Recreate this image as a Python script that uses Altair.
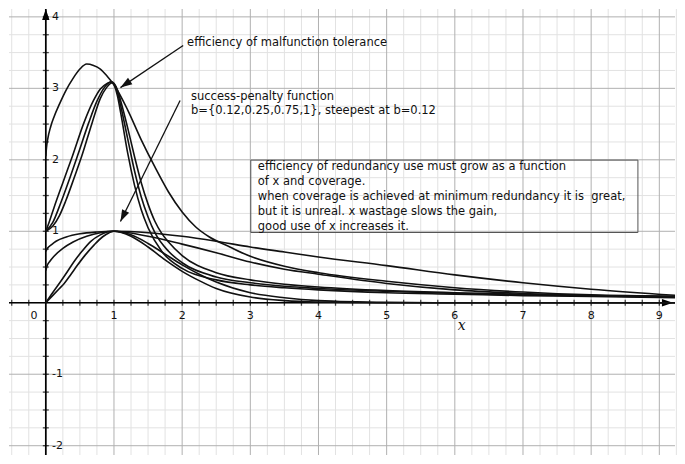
import altair as alt
import pandas as pd

# ---- curve values ----
# success-penalty family (peak 1 at x=1)
b1_x = [0, 0.03, 0.08, 0.15, 0.3, 0.5, 0.75, 1, 1.5, 2, 2.5, 3, 3.5, 4, 5, 6, 7, 8, 9.3]
b1_y = [0.72, 0.77, 0.81, 0.86, 0.92, 0.965, 0.99, 1, 0.98, 0.93, 0.86, 0.78, 0.71, 0.64, 0.52, 0.39, 0.28, 0.19, 0.1]
b2_x = [0, 0.02, 0.06, 0.12, 0.25, 0.4, 0.6, 0.8, 1, 1.5, 2, 2.5, 3, 3.5, 4, 5, 6, 7, 8, 9.3]
b2_y = [0.45, 0.52, 0.58, 0.65, 0.76, 0.85, 0.93, 0.98, 1, 0.93, 0.82, 0.7, 0.57, 0.47, 0.4, 0.27, 0.18, 0.13, 0.1, 0.08]
b3_x = [0, 0.1, 0.22, 0.32, 0.41, 0.53, 0.66, 0.8, 0.9, 1, 1.25, 1.5, 1.75, 2, 2.25, 2.5, 3, 3.5, 4, 5, 6, 9.3]
b3_y = [0, 0.14, 0.3, 0.44, 0.57, 0.72, 0.86, 0.95, 0.99, 1, 0.95, 0.83, 0.68, 0.53, 0.4, 0.29, 0.14, 0.07, 0.03, 0.005, 0, 0]
b4_x = [0, 0.1, 0.2, 0.27, 0.37, 0.46, 0.58, 0.71, 0.83, 0.93, 1, 1.25, 1.5, 1.75, 2, 2.25, 2.5, 3, 3.5, 4, 5, 9.3]
b4_y = [0, 0.1, 0.2, 0.27, 0.4, 0.52, 0.67, 0.81, 0.92, 0.98, 1, 0.93, 0.78, 0.6, 0.44, 0.31, 0.2, 0.08, 0.03, 0.01, 0, 0]
# malfunction-tolerance efficiency family
u0_x = [0, 0.01, 0.03, 0.07, 0.12, 0.2, 0.3, 0.4, 0.5, 0.6, 0.7, 0.8, 0.9, 1.0, 1.2, 1.4, 1.6, 1.8, 2.0, 2.2, 2.4, 2.7, 3.0, 3.5, 4, 5, 6, 7, 8, 9.3]
u0_y = [2.05, 2.17, 2.3, 2.46, 2.6, 2.78, 2.98, 3.14, 3.27, 3.34, 3.32, 3.27, 3.17, 3.05, 2.7, 2.28, 1.9, 1.55, 1.27, 1.06, 0.92, 0.78, 0.65, 0.51, 0.42, 0.3, 0.21, 0.15, 0.11, 0.09]
u1_x = [0, 0.05, 0.12, 0.25, 0.39, 0.56, 0.7, 0.8, 0.9, 0.96, 1.05, 1.1, 1.2, 1.3, 1.4, 1.5, 1.7, 2.0, 2.5, 3, 3.5, 4, 5, 6, 7, 8, 9.3]
u1_y = [1, 1.13, 1.33, 1.68, 2.05, 2.52, 2.83, 2.99, 3.07, 3.09, 2.9, 2.65, 2.1, 1.65, 1.3, 1.05, 0.72, 0.48, 0.32, 0.25, 0.21, 0.18, 0.14, 0.12, 0.1, 0.09, 0.07]
u2_x = [0, 0.1, 0.22, 0.35, 0.47, 0.63, 0.75, 0.85, 0.93, 0.97, 1.05, 1.1, 1.2, 1.3, 1.4, 1.5, 1.6, 1.8, 2.0, 2.5, 3, 3.5, 4, 5, 6, 7, 8, 9.3]
u2_y = [1, 1.12, 1.4, 1.74, 2.07, 2.52, 2.82, 3.0, 3.08, 3.09, 2.95, 2.75, 2.3, 1.85, 1.48, 1.2, 0.98, 0.72, 0.56, 0.36, 0.28, 0.23, 0.2, 0.16, 0.13, 0.11, 0.095, 0.08]
u3_x = [0, 0.1, 0.2, 0.29, 0.42, 0.53, 0.68, 0.8, 0.89, 0.95, 0.98, 1.05, 1.1, 1.2, 1.3, 1.4, 1.5, 1.6, 1.7, 1.8, 2.0, 2.5, 3, 3.5, 4, 5, 6, 7, 8, 9.3]
u3_y = [1, 1.07, 1.22, 1.42, 1.76, 2.06, 2.52, 2.86, 3.01, 3.07, 3.08, 2.98, 2.82, 2.45, 2.05, 1.68, 1.38, 1.14, 0.97, 0.85, 0.66, 0.42, 0.32, 0.26, 0.22, 0.17, 0.14, 0.12, 0.1, 0.085]

x_tick_labels = ["1", "2", "3", "4", "5", "6", "7", "8", "9"]
y_tick_labels = ["-2", "-1", "1", "2", "3", "4"]

series = {
    "b1": (b1_x, b1_y), "b2": (b2_x, b2_y), "b3": (b3_x, b3_y), "b4": (b4_x, b4_y),
    "u0": (u0_x, u0_y), "u1": (u1_x, u1_y), "u2": (u2_x, u2_y), "u3": (u3_x, u3_y),
}
rows = []
for name, (xs_, ys_) in series.items():
    for i, (a, b) in enumerate(zip(xs_, ys_)):
        rows.append({"s": name, "x": a, "y": b, "o": i})
curves = pd.DataFrame(rows)

XD = [-0.54, 9.23]
YD = [-2.13, 4.11]
xs = alt.Scale(domain=XD, nice=False, zero=False)
ys = alt.Scale(domain=YD, nice=False, zero=False)

def X(f="x"):
    return alt.X(f + ":Q", scale=xs, axis=None)

def Y(f="y"):
    return alt.Y(f + ":Q", scale=ys, axis=None)

FONT = "DejaVu Sans"

# grid
minor_x = [i * 0.25 for i in range(-2, 38) if i % 4 != 0]
major_x = [i for i in range(0, 10)]
minor_y = [i * 0.25 for i in range(-8, 17) if i % 4 != 0]
major_y = [i for i in range(-2, 5)]

gx_minor = alt.Chart(pd.DataFrame({"x": minor_x})).mark_rule(color="#e2e2e2", strokeWidth=1).encode(x=X())
gy_minor = alt.Chart(pd.DataFrame({"y": minor_y})).mark_rule(color="#e2e2e2", strokeWidth=1).encode(y=Y())
gx_major = alt.Chart(pd.DataFrame({"x": major_x})).mark_rule(color="#b0b0b0", strokeWidth=1).encode(x=X())
gy_major = alt.Chart(pd.DataFrame({"y": major_y})).mark_rule(color="#b0b0b0", strokeWidth=1).encode(y=Y())

# axes
axis_df = pd.DataFrame({"x": [XD[0]], "x2": [XD[1]], "y": [0.0]})
x_axis = alt.Chart(axis_df).mark_rule(color="black", strokeWidth=1.7).encode(
    x=X(), x2="x2:Q", y=Y())
y_axis_df = pd.DataFrame({"x": [0.0], "y": [YD[0]], "y2": [YD[1]]})
y_axis = alt.Chart(y_axis_df).mark_rule(color="black", strokeWidth=1.7).encode(
    x=X(), y=Y(), y2="y2:Q")

tx = [i * 0.25 for i in range(-2, 37) if i != 0]
ty = [i * 0.25 for i in range(-8, 17) if i != 0]
xt = alt.Chart(pd.DataFrame({"x": tx, "y": [0.0] * len(tx)})).mark_tick(
    orient="vertical", size=6, thickness=1.3, color="black").encode(x=X(), y=Y())
yt = alt.Chart(pd.DataFrame({"x": [0.0] * len(ty), "y": ty})).mark_tick(
    orient="horizontal", size=6, thickness=1.3, color="black").encode(x=X(), y=Y())

arrow_path = "M0,0L0.6,1.8L-0.6,1.8Z"
ax_heads = pd.DataFrame({"x": [9.2, 0.0], "y": [0.0, 4.11], "a": [90, 0]})
axis_heads = alt.Chart(ax_heads).mark_point(
    shape=arrow_path, size=150, filled=True, color="black", opacity=1).encode(
    x=X(), y=Y(), angle=alt.Angle("a:Q", scale=None))

# tick labels
xl = alt.Chart(pd.DataFrame({"x": list(range(1, 10)), "t": x_tick_labels, "y": [-0.18] * 9})).mark_text(
    font=FONT, fontSize=11, color="#111", baseline="middle", align="center").encode(
    x=X(), y=Y(), text="t:N")
zero_l = alt.Chart(pd.DataFrame({"x": [-0.175], "y": [-0.18], "t": ["0"]})).mark_text(
    font=FONT, fontSize=11, color="#111", baseline="middle", align="center").encode(
    x=X(), y=Y(), text="t:N")
yl = alt.Chart(pd.DataFrame({"x": [0.09] * 6, "y": [-2, -1, 1, 2, 3, 4], "t": y_tick_labels})).mark_text(
    font=FONT, fontSize=11, color="#111", baseline="middle", align="left").encode(
    x=X(), y=Y(), text="t:N")
xtitle = alt.Chart(pd.DataFrame({"x": [6.1], "y": [-0.33], "t": ["x"]})).mark_text(
    font="DejaVu Serif", fontStyle="italic", fontSize=14, color="#111", baseline="middle", align="center").encode(
    x=X(), y=Y(), text="t:N")

# curves
lines = alt.Chart(curves).mark_line(
    color="#111", strokeWidth=1.6, interpolate="monotone", clip=True).encode(
    x=X(), y=Y(), detail="s:N", order="o:Q")

# annotation arrows
arr = pd.DataFrame({
    "x": [2.015, 1.97], "y": [3.6, 2.83],
    "x2": [1.095, 1.095], "y2": [3.01, 1.136],
    "a": [236, 206],
})
arrow_lines = alt.Chart(arr).mark_rule(color="#111", strokeWidth=1.3).encode(
    x=X(), y=Y(), x2="x2:Q", y2="y2:Q")
arrow_heads = alt.Chart(arr).mark_point(
    shape=arrow_path, size=170, filled=True, color="#111", opacity=1).encode(
    x=X("x2"), y=Y("y2"), angle=alt.Angle("a:Q", scale=None))

# annotation texts
NB = "\u00a0"
ann = pd.DataFrame({
    "x": [2.073, 2.13, 2.13, 3.11, 3.11, 3.11, 3.11, 3.11],
    "y": [3.64, 2.875, 2.68, 1.90, 1.685, 1.485, 1.275, 1.065],
    "t": [
        "efficiency of malfunction tolerance",
        "success-penalty function",
        NB + "b={0.12,0.25,0.75,1}, steepest at b=0.12",
        "efficiency of redundancy use must grow as a function",
        "of x and coverage.",
        "when coverage is achieved at minimum redundancy it is" + NB + NB + "great,",
        "but it is unreal. x wastage slows the gain,",
        "good use of x increases it.",
    ],
})
ann_text = alt.Chart(ann).mark_text(
    font=FONT, fontSize=11.5, color="#111", align="left", baseline="middle").encode(
    x=X(), y=Y(), text="t:N")

box = alt.Chart(pd.DataFrame({"x": [3.007], "x2": [8.686], "y": [0.983], "y2": [1.996]})).mark_rect(
    fill=None, fillOpacity=0, stroke="#555", strokeWidth=1).encode(
    x=X(), x2="x2:Q", y=Y(), y2="y2:Q")

chart = alt.layer(
    gx_minor, gy_minor, gx_major, gy_major,
    x_axis, y_axis, xt, yt, axis_heads,
    xl, zero_l, yl, xtitle,
    box, lines, arrow_lines, arrow_heads, ann_text,
).properties(
    width=669, height=448, padding=0,
    autosize=alt.AutoSizeParams(type="fit", contains="padding"),
    background="white",
).configure_view(stroke=None)

chart.save("out.html", embed_options={"renderer": "svg", "actions": False})
